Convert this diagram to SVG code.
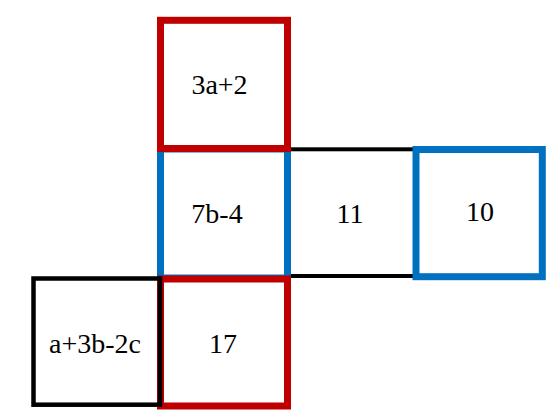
<svg xmlns="http://www.w3.org/2000/svg" width="556" height="414" viewBox="0 0 556 414">
<style>
.red{fill:none;stroke:#C00000;stroke-width:7}
.blue{fill:none;stroke:#0070C0;stroke-width:7}
.blk{fill:none;stroke:#000;stroke-width:4}
.t{font-family:'Times New Roman','Liberation Serif','DejaVu Serif',serif;font-size:28px;fill:#000;text-anchor:middle}
</style>
<rect width="556" height="414" fill="#fff"/>
<g id="n11"><rect class="blk" x="287.5" y="149.3" width="128.5" height="126.7"/><text class="t" x="350" y="223.3">11</text></g>
<g id="n7b4"><rect class="blue" x="160.5" y="149" width="127" height="129"/><text class="t" x="217" y="222.7">7b-4</text></g>
<g id="n10"><rect class="blue" x="416" y="149.5" width="126.3" height="127.2"/><text class="t" x="480" y="220.7">10</text></g>
<g id="n3a2"><rect class="red" x="160.5" y="20.3" width="127" height="128.2"/><text class="t" x="219.5" y="94">3a+2</text></g>
<g id="n17"><rect class="red" x="160.5" y="279" width="127" height="127"/><text class="t" x="223" y="353.3">17</text></g>
<g id="nabc"><rect class="blk" x="33.5" y="278.5" width="126.5" height="126.2" style="stroke-width:4.5"/><text class="t" x="95" y="352.7">a+3b-2c</text></g>
<g id="connectors"></g>
</svg>
